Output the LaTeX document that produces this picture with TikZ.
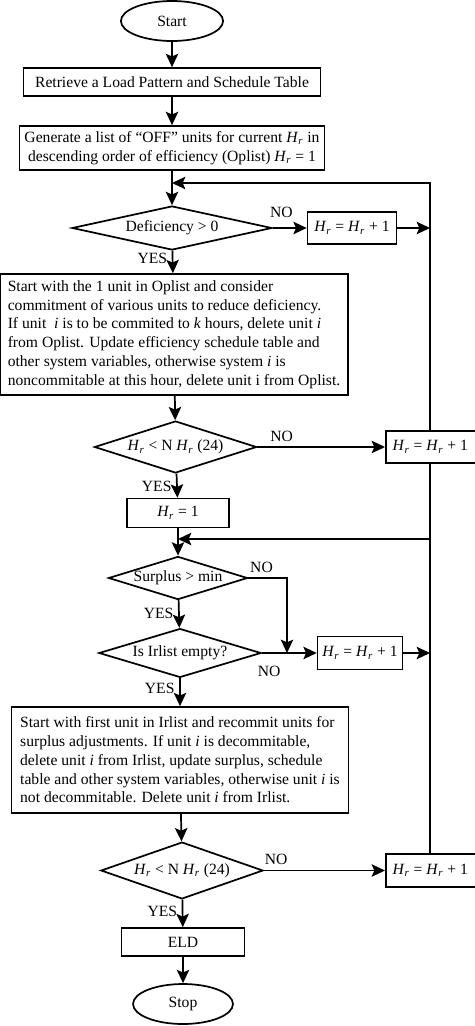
\documentclass[tikz,border=0pt]{standalone}
\usepackage{fontspec}
\setmainfont{Liberation Serif}
\usetikzlibrary{shapes.geometric,arrows.meta}
\newcommand{\Hr}{\textit{H}\textsubscript{\textit{r}}}

\begin{document}
\begin{tikzpicture}[
    x=0.0225cm, y=-0.0225cm,
    line width=1.1pt,
    font=\fontsize{10}{12}\selectfont,
    term/.style={draw, ellipse, minimum width=#1, minimum height=0.9cm, inner sep=0pt},
    proc/.style={draw, minimum width=#1, minimum height=0.65cm, inner sep=0pt, align=center},
    txtbox/.style={draw, minimum width=#1, inner sep=0.12cm, align=left},
    test/.style={draw, diamond, aspect=#1, inner sep=0pt},
    flow/.style={-{Stealth[length=0.3cm, width=0.28cm, inset=0.06cm]}},
    lbl/.style={inner sep=3pt},
  ]
    \useasboundingbox (0,0) rectangle (474,1026);

    % Main column
    \node[term=2.3cm] (start) at (172,21) {Start};
    \node[proc=6.68cm, minimum height=0.63cm] (load) at (172,82)
      {Retrieve a Load Pattern and Schedule Table};
    \node[proc=6.86cm, minimum height=0.99cm] (gen) at (172,148)
      {Generate a list of “OFF” units for current \Hr{} in\\
       descending order of efficiency (Oplist) \Hr{} = 1};
    \node[test=4, minimum width=4.5cm, minimum height=0.99cm] (defic) at (172,228)
      {Deficiency > 0};
    \node[txtbox=7.83cm, minimum height=2.72cm] (commit) at (174,334.5)
      {Start with the 1 unit in Oplist and consider\\
       commitment of various units to reduce deficiency.\\
       If unit\ \ \textit{i} is to be commited to \textit{k} hours, delete unit \textit{i}\\
       from Oplist. Update efficiency schedule table and\\
       other system variables, otherwise system \textit{i} is\\
       noncommitable at this hour, delete unit i from Oplist.};
    \node[test=3, minimum width=3.65cm, minimum height=1.17cm] (hrlt1) at (175.5,447)
      {\Hr{} < N \Hr{} (24)};
    \node[proc=2.3cm] (hrone) at (178,513) {\Hr{} = 1};
    \node[test=3.2, minimum width=3.13cm, minimum height=0.97cm] (surplus) at (178,578)
      {Surplus > min};
    \node[test=3, minimum width=3.65cm, minimum height=1.1cm] (irlist) at (180,653)
      {Is Irlist empty?};
    \node[txtbox=7.58cm, minimum height=2.385cm] (recommit) at (180,760)
      {Start with first unit in Irlist and recommit units for\\
       surplus adjustments. If unit \textit{i} is decommitable,\\
       delete unit \textit{i} from Irlist, update surplus, schedule\\
       table and other system variables, otherwise unit \textit{i} is\\
       not decommitable. Delete unit \textit{i} from Irlist.};
    \node[test=3, minimum width=3.65cm, minimum height=1.28cm] (hrlt2) at (182,870.5)
      {\Hr{} < N \Hr{} (24)};
    \node[proc=2.77cm, minimum height=0.63cm] (eld) at (183,942) {ELD};
    \node[term=2.25cm] (stop) at (183,1004) {Stop};

    % Hour increments
    \coordinate (rail) at (430,0);
    \node[proc=2cm, minimum height=0.72cm] (hrA) at (352,228) {\Hr{} = \Hr{} + 1};
    \node[proc=2.4cm, minimum height=0.72cm, anchor=west] (hrB) at (385,447)
      {\hspace{-0.4cm}\Hr{} = \Hr{} + 1};
    \node[proc=1.91cm, minimum height=0.74cm] (hrC) at (360,653) {\Hr{} = \Hr{} + 1};
    \node[proc=2.4cm, minimum height=0.74cm, anchor=west] (hrD) at (385,870.5)
      {\hspace{-0.4cm}\Hr{} = \Hr{} + 1};

    % Main flow
    \draw[flow] (start) -- (load);
    \draw[flow] (load) -- (gen);
    \draw[flow] (gen) -- (defic);
    \draw[flow] (defic) -- node[lbl, left, pos=0.35] {YES} (commit);
    \draw[flow] (commit) -- (hrlt1);
    \draw[flow] (hrlt1) -- node[lbl, left, pos=0.53] {YES} (hrone);
    \draw[flow] (hrone) -- (surplus);
    \draw[flow] (surplus) -- node[lbl, left, pos=0.46] {YES} (irlist);
    \draw[flow] (irlist) -- node[lbl, left, pos=0.37] {YES} (recommit);
    \draw[flow] (recommit) -- (hrlt2);
    \draw[flow] (hrlt2) -- node[lbl, left, pos=0.43] {YES} (eld);
    \draw[flow] (eld) -- (stop);

    % NO branches
    \draw[flow] (defic) -- node[lbl, above=3pt, pos=0.25] {NO} (hrA);
    \draw[flow] (hrlt1) -- node[lbl, above, pos=0.19] {NO} (hrB);
    \coordinate (cmin) at (287,653);
    \draw[flow] (surplus.east) -| node[lbl, above, pos=0.17] {NO} (cmin);
    \draw[flow] (irlist) -- node[lbl, below=5pt, pos=0.13] {NO} (hrC);
    \draw[flow] (hrlt2) -- node[lbl, above, pos=0.1] {NO} (hrD);

    % Loop backs
    \coordinate (jtop) at (172,183);
    \coordinate (jmid) at (178,539);
    \draw[flow] (hrA) -- (hrA -| rail);
    \draw[flow] (hrB.north -| rail) |- (jtop);
    \draw[flow] (hrB.south -| rail) |- (jmid);
    \draw (hrD.north -| rail) -- (rail |- jmid);
    \draw[flow] (hrC) -- (hrC -| rail);
  \end{tikzpicture}
\end{document}
